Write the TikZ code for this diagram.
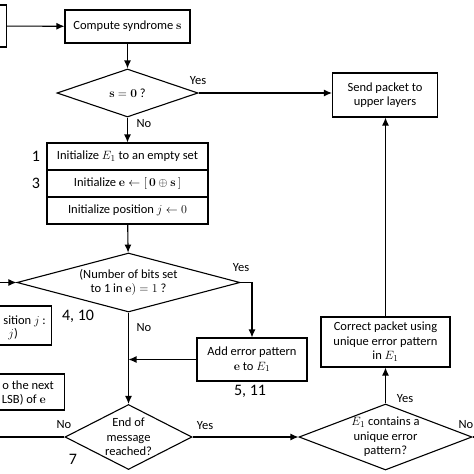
\documentclass[tikz,border=0pt]{standalone}
\usepackage[no-math]{fontspec}
\setmainfont{Carlito}
\usetikzlibrary{shapes.geometric,arrows.meta}

\begin{document}
\begin{tikzpicture}[x=1pt,y=-1pt,align=center,font=\fontsize{12.5}{14.5}\selectfont]

\useasboundingbox (0,0) rectangle (474,474);

\tikzstyle{txt}=[
	inner sep=0pt
]
\tikzstyle{num}=[
	inner sep=0pt,
	font=\fontsize{16}{18}\selectfont
]
\tikzstyle{proc}=[
	rectangle,
	draw,
	line width=1.1pt,
	inner sep=0pt
]
\tikzstyle{decision}=[
	diamond,
	draw,
	line width=1.1pt,
	inner sep=0pt
]
\tikzstyle{wire}=[line width=1.1pt]
\tikzstyle{arr}=[wire, ->, >={Latex[length=8pt,width=7pt]}]

% top row
\node[proc, anchor=east, minimum width=40pt, minimum height=42pt] (input) at (7, 26) {};
\node[proc, minimum width=125pt, minimum height=33pt] (syndrome) at (127.5, 26.5)
	{Compute syndrome $\mathbf{s}$};
\draw[arr] (input) -- (syndrome);

\node[decision, minimum width=141pt, minimum height=48pt] (iszero) at (127.5, 93) {};
\node[txt] (iszerotxt) at (127.5, 93) {$\mathbf{s}=\mathbf{0}$ ?};
\draw[arr] (syndrome) -- (iszero);

\node[proc, minimum width=105pt, minimum height=44pt] (send) at (385, 95)
	{Send packet to\\upper layers};
\draw[arr] (iszero.east) -- (iszero.east -| send.west);
\node[txt] (yes1) at (198, 81) {Yes};

% initialisation
\node[proc, minimum width=161pt, minimum height=27pt] (initset) at (127.5, 156.5)
	{Initialize $E_1$ to an empty set};
\node[proc, minimum width=161pt, minimum height=27pt] (initerr) at (127.5, 183.5)
	{Initialize $\mathbf{e}\leftarrow[\,\mathbf{0}\oplus\mathbf{s}\,]$};
\node[proc, minimum width=161pt, minimum height=27pt] (initpos) at (127.5, 210.5)
	{Initialize position $j\leftarrow0$};
\draw[arr] (iszero) -- (initset);
\node[txt] (no1) at (144, 124) {No};
\node[num] (num1) at (36, 156) {1};
\node[num] (num3) at (36, 183) {3};

% weight test
\node[decision, minimum width=223pt, minimum height=59pt] (bitcount) at (128.5, 282.5) {};
\node[txt] (bitcounttxt) at (128.5, 282.5)
	{(Number of bits set\\to 1 in $\mathbf{e})=1$ ?};
\draw[arr] (initpos) -- (bitcount);
\coordinate (leftin) at (0, 282.5);
\draw[arr] (leftin) -- (bitcount);
\node[num] (num4) at (78, 316) {4, 10};
\node[txt] (yes2) at (241, 268) {Yes};
\node[txt] (no2) at (144, 328) {No};

\node[proc, minimum width=110pt, minimum height=43pt] (adderr) at (252, 359.5)
	{Add error pattern\\$\mathbf{e}$ to $E_1$};
\draw[arr] (bitcount.east) -| (adderr);
\node[num] (num5) at (250, 391) {5, 11};

% cut-off boxes on the left
\node[proc, anchor=east, minimum width=70pt, minimum height=39pt] (flip) at (52, 325.5) {};
\node[txt, anchor=east] (fliptxt1) at (46, 321) {sition $j$ :};
\node[txt, anchor=east] (fliptxt2) at (18, 334) {$j$)};
\node[proc, anchor=east, minimum width=80pt, minimum height=36pt] (nextbit) at (65, 392) {};
\node[txt, anchor=east] (nextbittxt1) at (54, 385) {o the next};
\node[txt, anchor=east] (nextbittxt2) at (46, 400) {LSB) of $\mathbf{e}$};

% end of message
\node[decision, minimum width=127pt, minimum height=65pt] (endmsg) at (128.5, 437) {};
\node[txt] (endmsgtxt) at (128.5, 437) {End of\\message\\reached?};
\draw[arr] (bitcount) -- (endmsg);
\draw[arr] (adderr) -- (adderr -| endmsg);
\coordinate (leftout) at (0, 437);
\draw[wire] (endmsg) -- (leftout);
\node[txt] (no3) at (64, 425) {No};
\node[txt] (yes3) at (205, 426) {Yes};
\node[num] (num7) at (73, 459) {7};

% unique pattern
\node[decision, minimum width=173pt, minimum height=66pt] (unique) at (385.5, 437) {};
\node[txt] (uniquetxt) at (385.5, 437) {$E_1$ contains a\\unique error\\pattern?};
\draw[arr] (endmsg) -- (unique);
\coordinate (rightout) at (474, 437);
\draw[wire] (unique) -- (rightout);
\node[txt] (no4) at (466, 425) {No};
\node[txt] (yes4) at (405, 399) {Yes};

\node[proc, minimum width=129pt, minimum height=50pt] (correct) at (385.5, 342)
	{Correct packet using\\unique error pattern\\in $E_1$};
\draw[arr] (unique) -- (correct);
\draw[arr] (correct.north) -- (correct.north |- send.south);

\end{tikzpicture}
\end{document}
